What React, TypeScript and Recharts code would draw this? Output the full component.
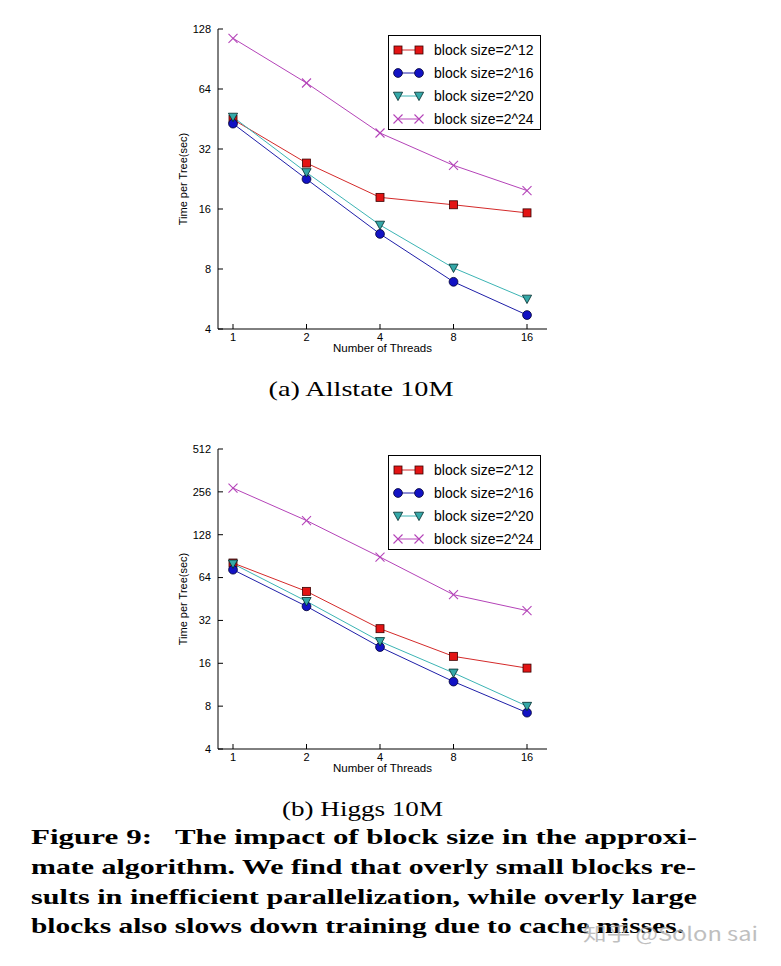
import React from 'react';
import { LineChart, Line, XAxis, YAxis, Legend } from 'recharts';

// ---------- data ----------
const THREADS = [1, 2, 4, 8, 16];
const SERIES_NAMES = ['block size=2^12', 'block size=2^16', 'block size=2^20', 'block size=2^24'];

const ALLSTATE_2_12 = [45.0, 27.2, 18.3, 16.8, 15.3];
const ALLSTATE_2_16 = [42.9, 22.6, 12.0, 6.9, 4.7];
const ALLSTATE_2_20 = [46.3, 24.4, 13.3, 8.1, 5.66];
const ALLSTATE_2_24 = [115, 68.6, 38.5, 26.5, 19.8];

const HIGGS_2_12 = [81, 51.2, 28.0, 17.9, 14.8];
const HIGGS_2_16 = [72.7, 40.2, 20.8, 11.9, 7.2];
const HIGGS_2_20 = [80, 43.6, 22.8, 13.7, 8.0];
const HIGGS_2_24 = [272, 161, 89.2, 48.5, 37.5];

const ALLSTATE_Y_TICKS = [4, 8, 16, 32, 64, 128];
const HIGGS_Y_TICKS = [4, 8, 16, 32, 64, 128, 256, 512];
const X_DOMAIN = [0.868, 19.32];

const X_LABEL = 'Number of Threads';
const Y_LABEL = 'Time per Tree(sec)';
const CAPTION_A = '(a) Allstate 10M';
const CAPTION_B = '(b) Higgs 10M';
const FIG_LABEL = 'Figure 9:';
const FIG_LINES = [
  'The impact of block size in the approxi-',
  'mate algorithm. We find that overly small blocks re-',
  'sults in inefficient parallelization, while overly large',
  'blocks also slows down training due to cache misses.',
];
const WATERMARK = '知乎 @Solon sai';

// ---------- styles ----------
const FONT = '"Liberation Sans", Arial, Helvetica, sans-serif';
const SERIF = '"Liberation Serif", "DejaVu Serif", serif';

const STYLES = [
  { key: 'b12', shape: 'square', line: '#d42a2a', fill: '#e31414', edge: '#3a0000' },
  { key: 'b16', shape: 'circle', line: '#1e1ea8', fill: '#1212c4', edge: '#000033' },
  { key: 'b20', shape: 'triangle', line: '#3cb4b4', fill: '#35a8a8', edge: '#002a2a' },
  { key: 'b24', shape: 'cross', line: '#b443b8', fill: 'none', edge: '#b443b8' },
];

function Marker({ shape, x, y, fill, edge }: any) {
  if (shape === 'square') {
    return <rect x={x - 4} y={y - 4} width={8} height={8} fill={fill} stroke={edge} strokeWidth={0.8} />;
  }
  if (shape === 'circle') {
    return <circle cx={x} cy={y} r={4.4} fill={fill} stroke={edge} strokeWidth={0.8} />;
  }
  if (shape === 'triangle') {
    return (
      <polygon
        points={`${x - 4.6},${y - 3.8} ${x + 4.6},${y - 3.8} ${x},${y + 4.6}`}
        fill={fill}
        stroke={edge}
        strokeWidth={0.8}
      />
    );
  }
  return (
    <g stroke={edge} strokeWidth={1.1}>
      <line x1={x - 4.5} y1={y - 4.5} x2={x + 4.5} y2={y + 4.5} />
      <line x1={x - 4.5} y1={y + 4.5} x2={x + 4.5} y2={y - 4.5} />
    </g>
  );
}

const makeDot = (s: any) => (props: any) => {
  const { cx, cy, index } = props;
  if (cx == null || cy == null) return <g key={`d-${s.key}-${index}`} />;
  return (
    <g key={`d-${s.key}-${index}`}>
      <Marker shape={s.shape} x={cx} y={cy} fill={s.fill} edge={s.edge} />
    </g>
  );
};

const renderLegend = () => (
  <div
    style={{
      width: 153,
      height: 95,
      border: '1px solid #000',
      boxSizing: 'border-box',
      background: '#fff',
    }}
  >
    <svg width={151} height={93} style={{ display: 'block' }}>
      {STYLES.map((s, i) => {
        const y = 14 + i * 23;
        return (
          <g key={s.key}>
            <line x1={9} x2={30} y1={y} y2={y} stroke={s.line} strokeWidth={1} />
            <Marker shape={s.shape} x={9} y={y} fill={s.fill} edge={s.edge} />
            <Marker shape={s.shape} x={30} y={y} fill={s.fill} edge={s.edge} />
            <text x={45} y={y} dy="0.36em" fontSize={14} fontFamily={FONT} fill="#000">
              {SERIES_NAMES[i]}
            </text>
          </g>
        );
      })}
    </svg>
  </div>
);

function buildRows(a: number[], b: number[], c: number[], d: number[]) {
  return THREADS.map((t, i) => ({ threads: t, b12: a[i], b16: b[i], b20: c[i], b24: d[i] }));
}

const ALLSTATE_ROWS = buildRows(ALLSTATE_2_12, ALLSTATE_2_16, ALLSTATE_2_20, ALLSTATE_2_24);
const HIGGS_ROWS = buildRows(HIGGS_2_12, HIGGS_2_16, HIGGS_2_20, HIGGS_2_24);

function Panel({ rows, yTicks, top }: any) {
  const yDomain = [yTicks[0], yTicks[yTicks.length - 1]];
  const tickStyle = { fontSize: 11, fill: '#000', fontFamily: FONT };
  return (
    <div style={{ position: 'absolute', left: 150, top, width: 420, height: 360 }}>
      <LineChart width={420} height={360} data={rows} margin={{ top: 19, right: 23, bottom: 11, left: 28 }}>
        <XAxis
          xAxisId="b"
          dataKey="threads"
          type="number"
          scale="log"
          domain={X_DOMAIN}
          ticks={THREADS}
          interval={0}
          allowDataOverflow
          height={30}
          tickSize={-5}
          tickMargin={9}
          tick={tickStyle}
          stroke="#000"
          tickLine={{ stroke: '#000' }}
          axisLine={{ stroke: '#000' }}
          label={{ value: X_LABEL, position: 'center', dy: 4, fontSize: 11.5, fill: '#000', fontFamily: FONT }}
        />
        <XAxis
          xAxisId="t"
          orientation="top"
          dataKey="threads"
          type="number"
          scale="log"
          domain={X_DOMAIN}
          ticks={THREADS}
          interval={0}
          allowDataOverflow
          height={0}
          tickSize={-5}
          tick={false}
          stroke="#000"
          tickLine={{ stroke: '#000' }}
          axisLine={{ stroke: '#000' }}
        />
        <YAxis
          yAxisId="l"
          type="number"
          scale="log"
          domain={yDomain}
          ticks={yTicks}
          interval={0}
          allowDataOverflow
          width={40}
          tickSize={-5}
          tickMargin={12}
          tick={tickStyle}
          stroke="#000"
          tickLine={{ stroke: '#000' }}
          axisLine={{ stroke: '#000' }}
          label={{ value: Y_LABEL, angle: -90, position: 'center', dx: -15, fontSize: 11, fill: '#000', fontFamily: FONT }}
        />
        <YAxis
          yAxisId="r"
          orientation="right"
          type="number"
          scale="log"
          domain={yDomain}
          ticks={yTicks}
          interval={0}
          allowDataOverflow
          width={0}
          tickSize={-5}
          tick={false}
          stroke="#000"
          tickLine={{ stroke: '#000' }}
          axisLine={{ stroke: '#000' }}
        />
        {STYLES.map((s, i) => (
          <Line
            key={s.key}
            xAxisId="b"
            yAxisId="l"
            type="linear"
            dataKey={s.key}
            name={SERIES_NAMES[i]}
            stroke={s.line}
            strokeWidth={1}
            dot={makeDot(s)}
            activeDot={false}
            isAnimationActive={false}
          />
        ))}
        <Legend
          layout="vertical"
          align="center"
          verticalAlign="middle"
          content={renderLegend}
          wrapperStyle={{ left: 238, top: 25, width: 153, height: 95 }}
        />
      </LineChart>
    </div>
  );
}

export default function App() {
  return (
    <div style={{ position: 'absolute', left: 0, top: 0, width: 781, height: 966, background: '#fff' }}>
      <svg width={781} height={966} style={{ position: 'absolute', left: 0, top: 0 }}>
        <text x={361} y={396} textAnchor="middle" fontFamily={SERIF} fontSize={22} fill="#000" textLength={185} lengthAdjust="spacingAndGlyphs">
          {CAPTION_A}
        </text>
        <text x={362.5} y={816} textAnchor="middle" fontFamily={SERIF} fontSize={22} fill="#000" textLength={161} lengthAdjust="spacingAndGlyphs">
          {CAPTION_B}
        </text>
        <text x={31} y={844} fontFamily={SERIF} fontWeight="bold" fontSize={22} fill="#000" textLength={121} lengthAdjust="spacingAndGlyphs">
          {FIG_LABEL}
        </text>
        <text x={175} y={844} fontFamily={SERIF} fontWeight="bold" fontSize={22} fill="#000" textLength={522} lengthAdjust="spacingAndGlyphs">
          {FIG_LINES[0]}
        </text>
        <text x={31} y={874} fontFamily={SERIF} fontWeight="bold" fontSize={22} fill="#000" textLength={665} lengthAdjust="spacingAndGlyphs">
          {FIG_LINES[1]}
        </text>
        <text x={31} y={904} fontFamily={SERIF} fontWeight="bold" fontSize={22} fill="#000" textLength={666} lengthAdjust="spacingAndGlyphs">
          {FIG_LINES[2]}
        </text>
        <text x={31} y={933} fontFamily={SERIF} fontWeight="bold" fontSize={22} fill="#000" textLength={653} lengthAdjust="spacingAndGlyphs">
          {FIG_LINES[3]}
        </text>
        <text x={583} y={941} fontFamily='"Noto Sans CJK SC", sans-serif' fontSize={19} fill="#b4b4b4" opacity={0.85} textLength={175} lengthAdjust="spacingAndGlyphs">
          {WATERMARK}
        </text>
      </svg>
      <Panel rows={ALLSTATE_ROWS} yTicks={ALLSTATE_Y_TICKS} top={10} />
      <Panel rows={HIGGS_ROWS} yTicks={HIGGS_Y_TICKS} top={430} />
    </div>
  );
}
